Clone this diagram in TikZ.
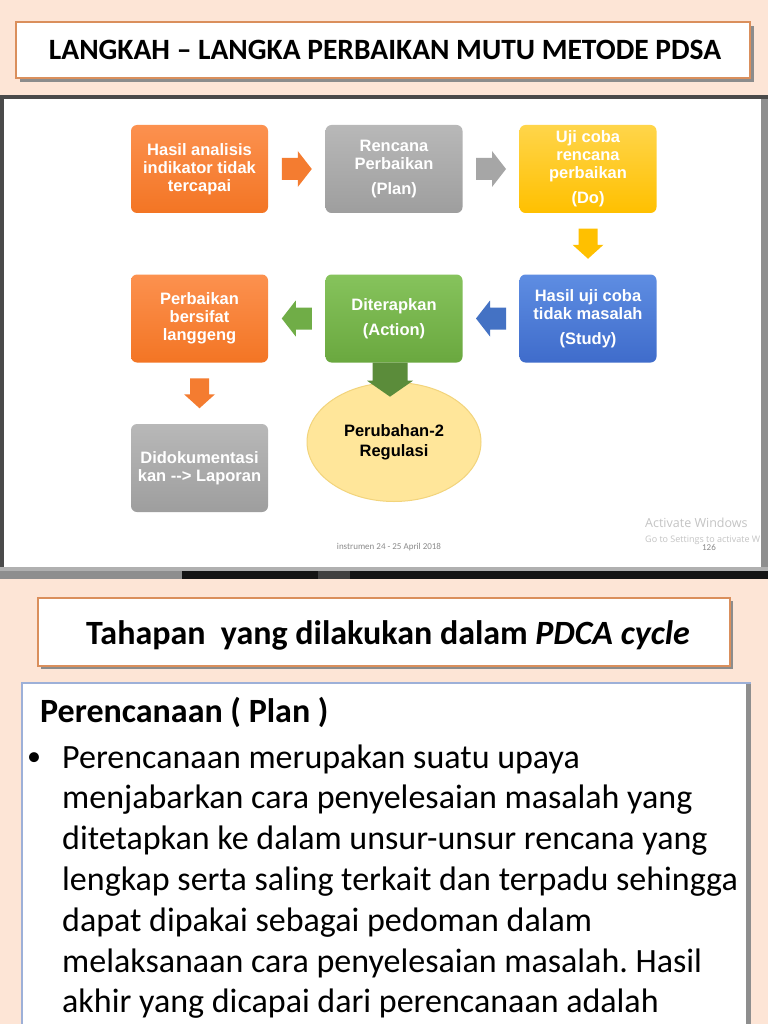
\documentclass[tikz,border=0pt]{standalone}
\usepackage{fontspec}
\setmainfont{Carlito}
\newfontfamily\arialn{Liberation Sans}
\newfontfamily\segoe{Open Sans}
\usetikzlibrary{calc,shapes.geometric}
\frenchspacing
\definecolor{bgpeach}{HTML}{FDE5D6}
\definecolor{ttlborder}{HTML}{DA8F5C}
\definecolor{shadowgray}{HTML}{8C8C8C}
\definecolor{panelborder}{HTML}{9DB0D8}
\definecolor{orA}{HTML}{FC914F}
\definecolor{orB}{HTML}{F37524}
\definecolor{grA}{HTML}{B8B8B8}
\definecolor{grB}{HTML}{9E9E9E}
\definecolor{yeA}{HTML}{FFD54A}
\definecolor{yeB}{HTML}{FFC000}
\definecolor{blA}{HTML}{5E8DE2}
\definecolor{blB}{HTML}{3F6CCB}
\definecolor{gnA}{HTML}{86C35C}
\definecolor{gnB}{HTML}{6AA83F}
\definecolor{circfill}{HTML}{FFE69A}
\definecolor{circborder}{HTML}{F2D47C}
\definecolor{arrOr}{HTML}{F47C30}
\definecolor{arrGr}{HTML}{A6A6A6}
\definecolor{arrYe}{HTML}{FFC000}
\definecolor{arrBl}{HTML}{4472C4}
\definecolor{arrGn}{HTML}{70AD47}
\definecolor{arrDg}{HTML}{5B8C3A}
\definecolor{framedark}{HTML}{4A4A4A}
\definecolor{stripgray}{HTML}{8E8E8E}
\definecolor{footgray}{HTML}{8A8A8A}
\definecolor{wmgray}{HTML}{C4C4C4}
\newcommand\hblk[3]{\fill[#1, shift={(#2)}, xscale=#3] (-15,-11) -- (1,-11) -- (1,-18) -- (15,0) -- (1,18) -- (1,11) -- (-15,11) -- cycle;}
\newcommand\vblk[2]{\fill[#1, shift={(#2)}] (-9.5,-15) -- (9.5,-15) -- (9.5,1) -- (15.5,1) -- (0,15) -- (-15.5,1) -- (-9.5,1) -- cycle;}
\tikzset{
  flowbox/.style={rounded corners=6pt, minimum width=137pt, minimum height=88pt,
    align=center, text=white, inner sep=0pt,
    font=\arialn\bfseries\fontsize{16.5}{18}\selectfont},
  titlebox/.style={draw=ttlborder, line width=1.5pt, fill=white, inner sep=0pt},
  bodytext/.style={anchor=base west, inner sep=0pt, font=\fontsize{34}{40}\selectfont},
}
\begin{document}
\begin{tikzpicture}[x=1pt,y=-1pt]
\useasboundingbox (0,0) rectangle (768,1024);
\fill[bgpeach] (0,0) rectangle (768,1024);
% top title
\fill[shadowgray] (20,26) rectangle (754,82);
\node[titlebox, minimum width=734pt, minimum height=56pt] (t1) at (383,50) {};
\node[anchor=base, inner sep=0pt, font=\bfseries\fontsize{29.5}{34}\selectfont] (t1txt) at (385,60) {LANGKAH – LANGKA PERBAIKAN MUTU METODE PDSA};
% screenshot frame
\fill[framedark] (0,95) rectangle (768,579);
\fill[white] (4,99) rectangle (761,567);
\fill[stripgray!70] (0,567) rectangle (768,571);
\fill[stripgray] (0,571) rectangle (182,579);
\fill[black!92] (182,571) rectangle (768,579);
\fill[black!75] (318,571) rectangle (350,579);
% flow boxes
\node[flowbox, top color=orA, bottom color=orB] (n1) at (199.5,169) {Hasil analisis\\indikator tidak\\tercapai};
\node[flowbox, top color=grA, bottom color=grB] (n2) at (394,169) {Rencana\\Perbaikan\\[7pt](Plan)};
\node[flowbox, top color=yeA, bottom color=yeB] (n3) at (588,169) {Uji coba\\rencana\\perbaikan\\[7pt](Do)};
\node[flowbox, top color=blA, bottom color=blB] (n4) at (588,318.5) {Hasil uji coba\\tidak masalah\\[7pt](Study)};
\node[flowbox, top color=gnA, bottom color=gnB] (n5) at (394,318.5) {Diterapkan\\[7pt](Action)};
\node[flowbox, top color=orA, bottom color=orB] (n6) at (199.5,318.5) {Perbaikan\\bersifat\\langgeng};
\node[flowbox, top color=grA, bottom color=grB] (n7) at (199.5,468) {Didokumentasi\\kan -{}-{}> Laporan};
\node[ellipse, fill=circfill, draw=circborder, line width=1pt, minimum width=174pt, minimum height=119pt,
  align=center, inner sep=0pt, font=\arialn\bfseries\fontsize{16.5}{20}\selectfont] (n8) at (394,442) {Perubahan-2\\Regulasi};
% block arrows
\coordinate (a1) at ($(n1.east)!0.5!(n2.west)$);
\coordinate (a2) at ($(n2.east)!0.5!(n3.west)$);
\coordinate (a3) at ($(n3.south)!0.5!(n4.north)$);
\coordinate (a4) at ($(n4.west)!0.5!(n5.east)$);
\coordinate (a5) at ($(n5.west)!0.5!(n6.east)$);
\coordinate (a6) at ($(n6.south)!0.5!(n7.north)$);
\hblk{arrOr}{a1}{1}
\hblk{arrGr}{a2}{1}
\vblk{arrYe}{a3}
\hblk{arrBl}{a4}{-1}
\hblk{arrGn}{a5}{-1}
\vblk{arrOr}{a6}
\fill[arrDg, shift={($(n5.south)+(-4,0)$)}] (-17.5,0) -- (17.5,0) -- (17.5,18) -- (23,18) -- (0,34) -- (-23,18) -- (-17.5,18) -- cycle;
% footer texts
\node[font=\fontsize{9}{10}\selectfont, text=footgray, inner sep=0pt] (foot) at (389,547) {instrumen 24 - 25 April 2018};
\node[font=\fontsize{9}{10}\selectfont, text=footgray, inner sep=0pt] (pg) at (709,547) {126};
\node[anchor=west, inner sep=0pt, text=wmgray, font=\segoe\fontsize{12.5}{14}\selectfont] (wm1) at (645,523) {Activate Windows};
\node[anchor=west, inner sep=0pt, text=wmgray, font=\segoe\fontsize{9}{10}\selectfont] (wm2) at (645,540) {Go to Settings to activate W};
\fill[stripgray] (761,99) rectangle (768,567);
% second title
\fill[shadowgray] (41,601) rectangle (733,669);
\node[titlebox, minimum width=692pt, minimum height=68pt] (t2) at (384,632) {};
\node[anchor=base, inner sep=0pt, font=\bfseries\fontsize{34}{40}\selectfont] (t2txt) at (388,644) {Tahapan\ \ yang dilakukan dalam \textit{PDCA cycle}};
% text panel
\fill[white, draw=panelborder, line width=2pt] (22,683) rectangle (750,1040);
\fill[stripgray] (746,684) rectangle (751,1040);
\node[anchor=base west, inner sep=0pt, font=\bfseries\fontsize{34}{40}\selectfont] (h1) at (40,722) {Perencanaan ( Plan )};
\node[inner sep=0pt, font=\fontsize{28}{30}\selectfont] (bul) at (34,759) {•};
\node[bodytext] (l1) at (62,768) {Perencanaan merupakan suatu upaya};
\node[bodytext] (l2) at (62,808.8) {menjabarkan cara penyelesaian masalah yang};
\node[bodytext] (l3) at (62,849.6) {ditetapkan ke dalam unsur-unsur rencana yang};
\node[bodytext] (l4) at (62,890.4) {lengkap serta saling terkait dan terpadu sehingga};
\node[bodytext] (l5) at (62,931.2) {dapat dipakai sebagai pedoman dalam};
\node[bodytext] (l6) at (62,972) {melaksanaan cara penyelesaian masalah. Hasil};
\node[bodytext] (l7) at (62,1012.8) {akhir yang dicapai dari perencanaan adalah};
\end{tikzpicture}
\end{document}
